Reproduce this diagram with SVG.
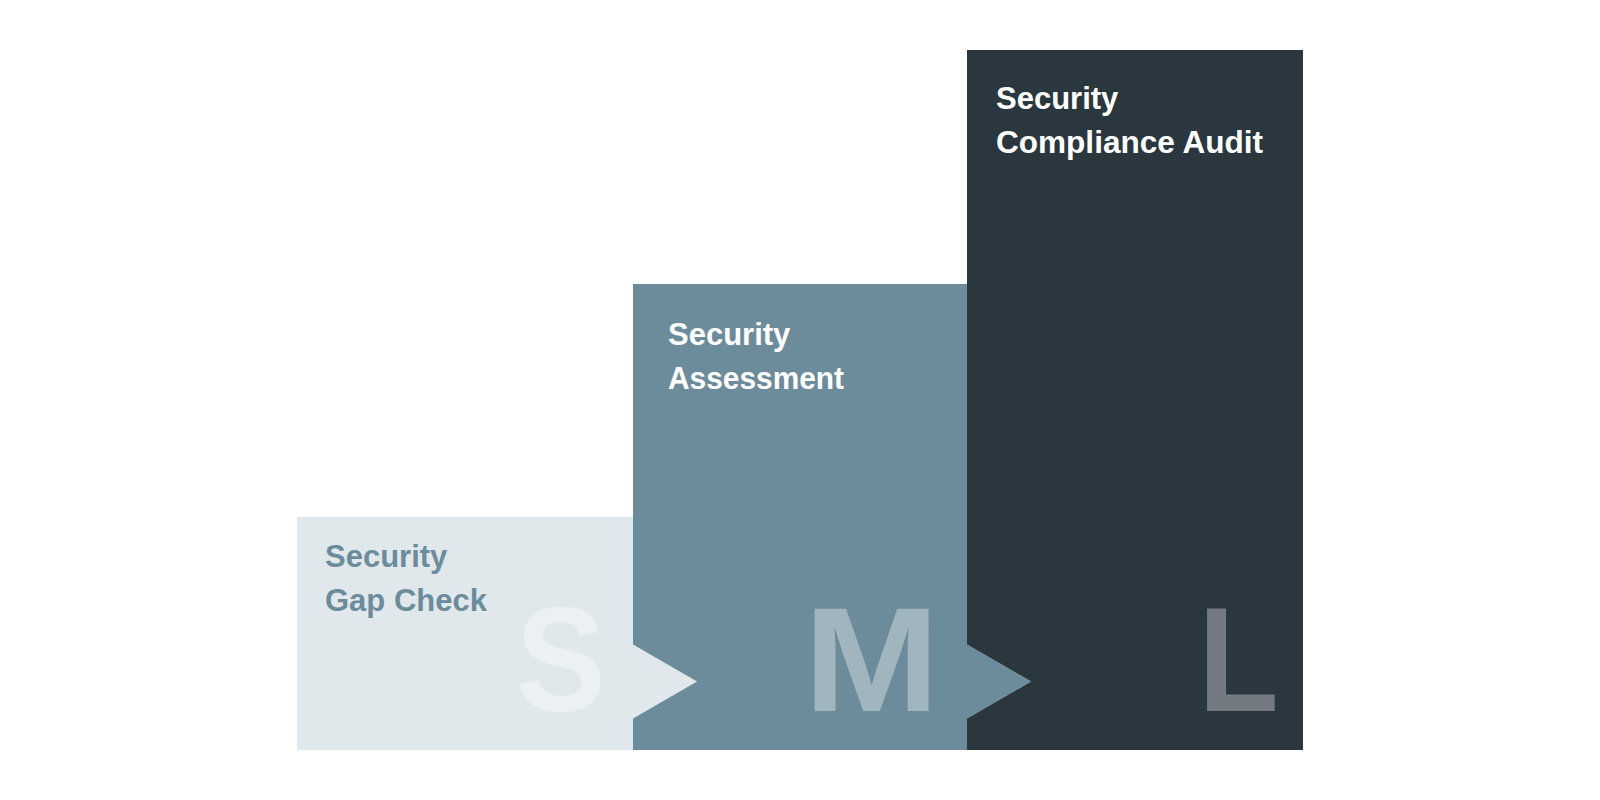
<svg xmlns="http://www.w3.org/2000/svg" width="1600" height="800" viewBox="0 0 1600 800">
  <style>
    .title { font-family: "Liberation Sans", Arial, sans-serif; font-weight: 700; font-size: 31px; }
    .big { font-family: "Liberation Sans", Arial, sans-serif; font-weight: 700; font-size: 148px; }
  </style>
  <rect x="0" y="0" width="1600" height="800" fill="#ffffff"/>
  <g id="node-s">
    <path d="M297,517 H633 V644.5 L697,681.5 L633,718.5 V750 H297 Z" fill="#e1e8eb"/>
    <text class="big" transform="translate(561,0) scale(0.91,1)" x="0" y="711" text-anchor="middle" fill="#ebf0f2">S</text>
    <text class="title" x="325" y="567" fill="#6d8c9b">Security</text>
    <text class="title" x="325" y="611" fill="#6d8c9b">Gap Check</text>
  </g>
  <g id="node-m">
    <path d="M633,284 H967 V644.5 L1031,681.5 L967,718.5 V750 H633 V718.5 L697,681.5 L633,644.5 Z" fill="#6d8c9b"/>
    <text class="big" transform="translate(871.5,0) scale(1.1,1)" x="0" y="711" text-anchor="middle" fill="#a1b5be">M</text>
    <text class="title" x="668" y="345" fill="#ffffff">Security</text>
    <text class="title" x="668" y="389" fill="#ffffff" textLength="176" lengthAdjust="spacingAndGlyphs">Assessment</text>
  </g>
  <g id="node-l">
    <path d="M967,50 H1303 V750 H967 V718.5 L1031,681.5 L967,644.5 Z" fill="#2a373e"/>
    <text class="big" transform="translate(1208,0) scale(0.89,1)" x="-11" y="711" fill="#737a82">L</text>
    <text class="title" x="996" y="109" fill="#ffffff">Security</text>
    <text class="title" x="996" y="153" fill="#ffffff" textLength="267" lengthAdjust="spacingAndGlyphs">Compliance Audit</text>
  </g>
</svg>
